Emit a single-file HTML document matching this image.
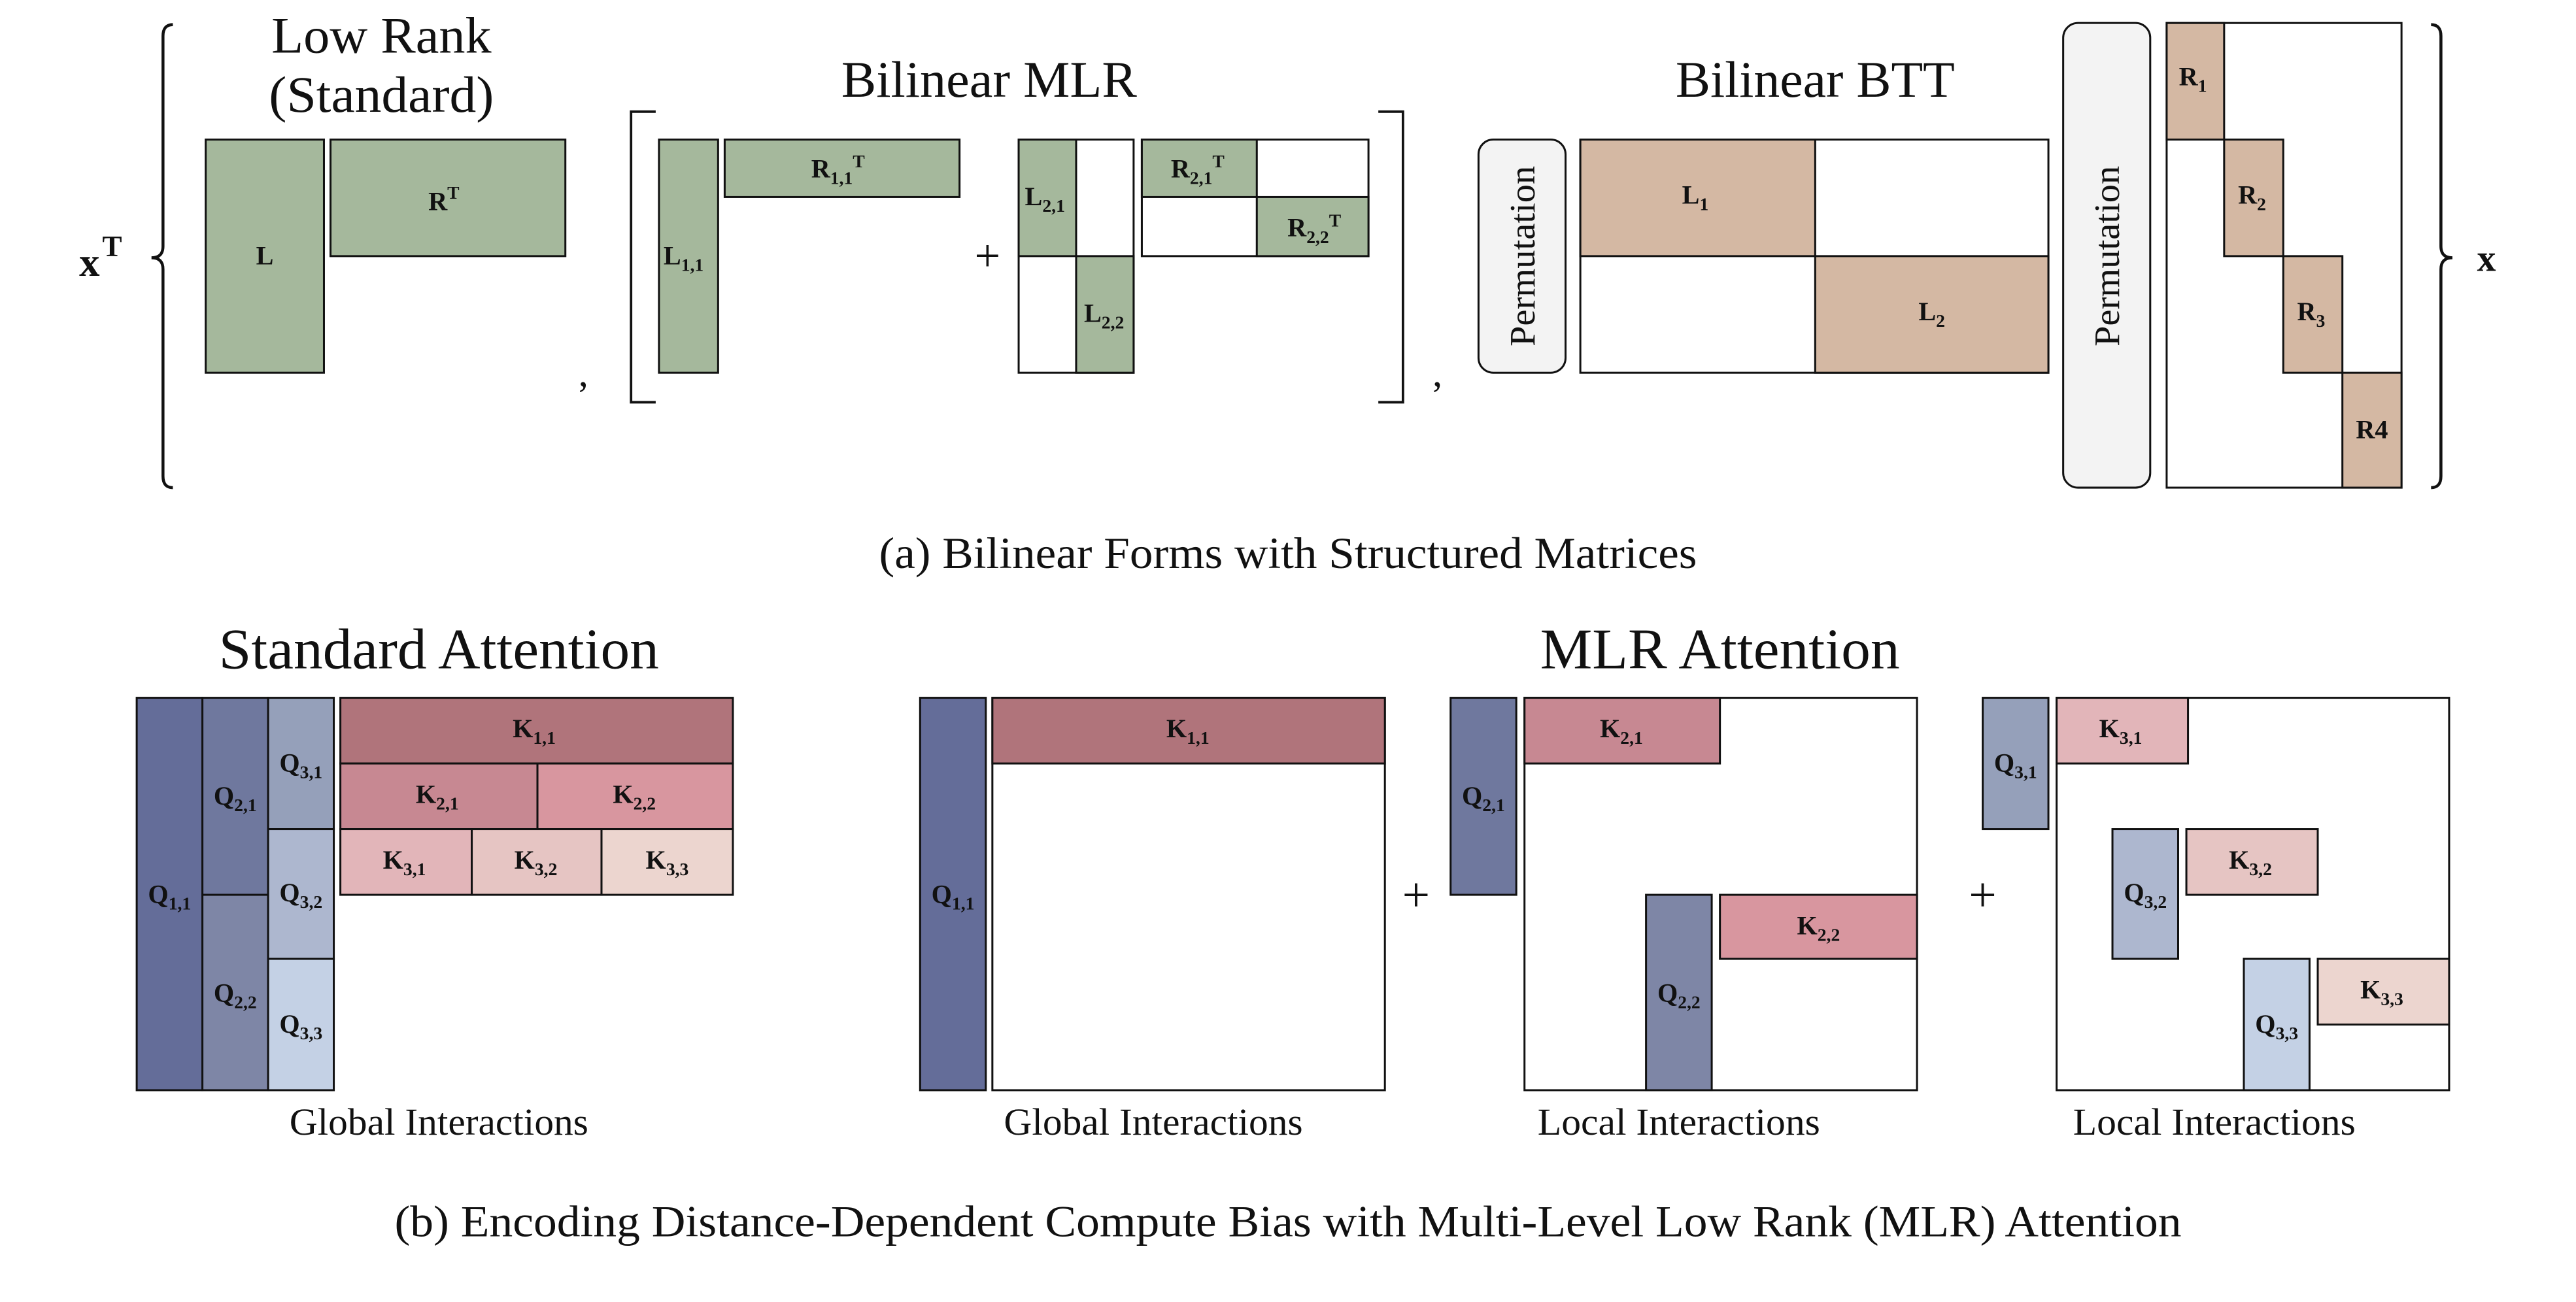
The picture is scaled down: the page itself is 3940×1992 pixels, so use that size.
<!DOCTYPE html>
<html><head><meta charset="utf-8"><style>
html,body{margin:0;padding:0;background:#fff;}
svg{display:block;}
text{font-family:"Liberation Serif",serif;fill:#111;}
.t{font-size:31px;}
.cap{font-size:27px;}
.lb{font-size:16px;font-weight:bold;text-anchor:middle;}
.sub{font-size:11px;}
.st{font-size:23px;text-anchor:middle;}
rect{stroke:#111;stroke-width:1.2;}
</style></head><body>
<svg width="3940" height="1992" viewBox="0 0 1568 793" xmlns="http://www.w3.org/2000/svg">
<text x="48" y="168" style="font-size:25px;font-weight:bold">x</text>
<text x="62" y="156" style="font-size:18px;font-weight:bold">T</text>
<path d="M105,15 Q99,15 99,22 L99,150 Q99,157 92,157 Q99,157 99,164 L99,290 Q99,297 105,297" fill="none" stroke="#111" stroke-width="1.8"/>
<path d="M1480,15 Q1486,15 1486,22 L1486,150 Q1486,157 1493,157 Q1486,157 1486,164 L1486,290 Q1486,297 1480,297" fill="none" stroke="#111" stroke-width="1.8"/>
<text x="1508" y="165" style="font-size:23px;font-weight:bold">x</text>

<text class="t" x="232" y="32" text-anchor="middle" textLength="134" lengthAdjust="spacingAndGlyphs">Low Rank</text>
<text class="t" x="232" y="68" text-anchor="middle" textLength="137" lengthAdjust="spacingAndGlyphs">(Standard)</text>
<rect x="125" y="85" width="72" height="142" fill="#a5b89c"/>
<rect x="201" y="85" width="143" height="71" fill="#a5b89c"/>
<text class="lb" x="161" y="161">L</text>
<text class="lb" x="270" y="128">R<tspan class="sub" dy="-7">T</tspan></text>
<text x="352" y="235" style="font-size:24px">,</text>

<text class="t" x="602" y="59" text-anchor="middle" textLength="180" lengthAdjust="spacingAndGlyphs">Bilinear MLR</text>
<path d="M399,68 L384,68 L384,245 L399,245" fill="none" stroke="#111" stroke-width="1.5"/>
<path d="M839,68 L854,68 L854,245 L839,245" fill="none" stroke="#111" stroke-width="1.5"/>
<rect x="401" y="85" width="36" height="142" fill="#a5b89c"/>
<text class="lb" x="416" y="161">L<tspan class="sub" dy="4">1,1</tspan></text>
<rect x="441" y="85" width="143" height="35" fill="#a5b89c"/>
<text class="lb" x="510" y="108">R<tspan class="sub" dy="4">1,1</tspan><tspan class="sub" dy="-10">T</tspan></text>
<text x="601" y="165" style="font-size:28px" text-anchor="middle">+</text>
<rect x="620" y="85" width="70" height="142" fill="#fff"/>
<rect x="620" y="85" width="35" height="71" fill="#a5b89c"/>
<rect x="655" y="156" width="35" height="71" fill="#a5b89c"/>
<text class="lb" x="636" y="125">L<tspan class="sub" dy="4">2,1</tspan></text>
<text class="lb" x="672" y="196">L<tspan class="sub" dy="4">2,2</tspan></text>
<rect x="695" y="85" width="138" height="71" fill="#fff"/>
<rect x="695" y="85" width="70" height="35" fill="#a5b89c"/>
<rect x="765" y="120" width="68" height="36" fill="#a5b89c"/>
<text class="lb" x="729" y="108">R<tspan class="sub" dy="4">2,1</tspan><tspan class="sub" dy="-10">T</tspan></text>
<text class="lb" x="800" y="144">R<tspan class="sub" dy="4">2,2</tspan><tspan class="sub" dy="-10">T</tspan></text>
<text x="872" y="235" style="font-size:24px">,</text>

<text class="t" x="1105" y="59" text-anchor="middle" textLength="170" lengthAdjust="spacingAndGlyphs">Bilinear BTT</text>
<rect x="900" y="85" width="53" height="142" rx="9" fill="#f3f3f3" stroke="#888"/>
<text x="934" y="156" style="font-size:22px" text-anchor="middle" transform="rotate(-90 934 156)" textLength="110" lengthAdjust="spacingAndGlyphs">Permutation</text>
<rect x="962" y="85" width="285" height="142" fill="#fff"/>
<rect x="962" y="85" width="143" height="71" fill="#d4b8a3"/>
<rect x="1105" y="156" width="142" height="71" fill="#d4b8a3"/>
<text class="lb" x="1032" y="124">L<tspan class="sub" dy="4">1</tspan></text>
<text class="lb" x="1176" y="195">L<tspan class="sub" dy="4">2</tspan></text>
<rect x="1256" y="14" width="53" height="283" rx="9" fill="#f3f3f3" stroke="#888"/>
<text x="1290" y="156" style="font-size:22px" text-anchor="middle" transform="rotate(-90 1290 156)" textLength="110" lengthAdjust="spacingAndGlyphs">Permutation</text>
<rect x="1319" y="14" width="143" height="283" fill="#fff"/>
<rect x="1319" y="14" width="35" height="71" fill="#d4b8a3"/>
<rect x="1354" y="85" width="36" height="71" fill="#d4b8a3"/>
<rect x="1390" y="156" width="36" height="71" fill="#d4b8a3"/>
<rect x="1426" y="227" width="36" height="70" fill="#d4b8a3"/>
<text class="lb" x="1335" y="52">R<tspan class="sub" dy="4">1</tspan></text>
<text class="lb" x="1371" y="124">R<tspan class="sub" dy="4">2</tspan></text>
<text class="lb" x="1407" y="195">R<tspan class="sub" dy="4">3</tspan></text>
<text class="lb" x="1444" y="267">R4</text>

<text class="cap" x="784" y="346" text-anchor="middle" textLength="498" lengthAdjust="spacingAndGlyphs">(a) Bilinear Forms with Structured Matrices</text>

<text x="267" y="407" style="font-size:35px" text-anchor="middle" textLength="268" lengthAdjust="spacingAndGlyphs">Standard Attention</text>
<rect x="83" y="425" width="40" height="239" fill="#646d99"/>
<rect x="123" y="425" width="40" height="120" fill="#6f789e"/>
<rect x="123" y="545" width="40" height="119" fill="#7e86a6"/>
<rect x="163" y="425" width="40" height="80" fill="#95a0ba"/>
<rect x="163" y="505" width="40" height="79" fill="#adb7cf"/>
<rect x="163" y="584" width="40" height="80" fill="#c4d1e5"/>
<text class="lb" x="103" y="550">Q<tspan class="sub" dy="4">1,1</tspan></text>
<text class="lb" x="143" y="490">Q<tspan class="sub" dy="4">2,1</tspan></text>
<text class="lb" x="143" y="610">Q<tspan class="sub" dy="4">2,2</tspan></text>
<text class="lb" x="183" y="470">Q<tspan class="sub" dy="4">3,1</tspan></text>
<text class="lb" x="183" y="549">Q<tspan class="sub" dy="4">3,2</tspan></text>
<text class="lb" x="183" y="629">Q<tspan class="sub" dy="4">3,3</tspan></text>
<rect x="207" y="425" width="239" height="40" fill="#b0747b"/>
<rect x="207" y="465" width="120" height="40" fill="#c78892"/>
<rect x="327" y="465" width="119" height="40" fill="#d8969f"/>
<rect x="207" y="505" width="80" height="40" fill="#e2b5b9"/>
<rect x="287" y="505" width="79" height="40" fill="#e6c5c3"/>
<rect x="366" y="505" width="80" height="40" fill="#ecd5cf"/>
<text class="lb" x="325" y="449">K<tspan class="sub" dy="4">1,1</tspan></text>
<text class="lb" x="266" y="489">K<tspan class="sub" dy="4">2,1</tspan></text>
<text class="lb" x="386" y="489">K<tspan class="sub" dy="4">2,2</tspan></text>
<text class="lb" x="246" y="529">K<tspan class="sub" dy="4">3,1</tspan></text>
<text class="lb" x="326" y="529">K<tspan class="sub" dy="4">3,2</tspan></text>
<text class="lb" x="406" y="529">K<tspan class="sub" dy="4">3,3</tspan></text>
<text class="st" x="267" y="691" textLength="182" lengthAdjust="spacingAndGlyphs">Global Interactions</text>

<text x="1047" y="407" style="font-size:35px" text-anchor="middle" textLength="219" lengthAdjust="spacingAndGlyphs">MLR Attention</text>
<rect x="560" y="425" width="40" height="239" fill="#646d99"/>
<text class="lb" x="580" y="550">Q<tspan class="sub" dy="4">1,1</tspan></text>
<rect x="604" y="425" width="239" height="239" fill="#fff"/>
<rect x="604" y="425" width="239" height="40" fill="#b0747b"/>
<text class="lb" x="723" y="449">K<tspan class="sub" dy="4">1,1</tspan></text>
<text class="st" x="702" y="691" textLength="182" lengthAdjust="spacingAndGlyphs">Global Interactions</text>
<text x="862" y="555" style="font-size:30px" text-anchor="middle">+</text>

<rect x="883" y="425" width="40" height="120" fill="#6f789e"/>
<text class="lb" x="903" y="490">Q<tspan class="sub" dy="4">2,1</tspan></text>
<rect x="928" y="425" width="239" height="239" fill="#fff"/>
<rect x="928" y="425" width="119" height="40" fill="#c78892"/>
<text class="lb" x="987" y="449">K<tspan class="sub" dy="4">2,1</tspan></text>
<rect x="1002" y="545" width="40" height="119" fill="#7e86a6"/>
<text class="lb" x="1022" y="610">Q<tspan class="sub" dy="4">2,2</tspan></text>
<rect x="1047" y="545" width="120" height="39" fill="#d8969f"/>
<text class="lb" x="1107" y="569">K<tspan class="sub" dy="4">2,2</tspan></text>
<text class="st" x="1022" y="691" textLength="172" lengthAdjust="spacingAndGlyphs">Local Interactions</text>
<text x="1207" y="555" style="font-size:30px" text-anchor="middle">+</text>

<rect x="1207" y="425" width="40" height="80" fill="#95a0ba"/>
<text class="lb" x="1227" y="470">Q<tspan class="sub" dy="4">3,1</tspan></text>
<rect x="1252" y="425" width="239" height="239" fill="#fff"/>
<rect x="1252" y="425" width="80" height="40" fill="#e2b5b9"/>
<text class="lb" x="1291" y="449">K<tspan class="sub" dy="4">3,1</tspan></text>
<rect x="1286" y="505" width="40" height="79" fill="#adb7cf"/>
<text class="lb" x="1306" y="549">Q<tspan class="sub" dy="4">3,2</tspan></text>
<rect x="1331" y="505" width="80" height="40" fill="#e6c5c3"/>
<text class="lb" x="1370" y="529">K<tspan class="sub" dy="4">3,2</tspan></text>
<rect x="1366" y="584" width="40" height="80" fill="#c4d1e5"/>
<text class="lb" x="1386" y="629">Q<tspan class="sub" dy="4">3,3</tspan></text>
<rect x="1411" y="584" width="80" height="40" fill="#ecd5cf"/>
<text class="lb" x="1450" y="608">K<tspan class="sub" dy="4">3,3</tspan></text>
<text class="st" x="1348" y="691" textLength="172" lengthAdjust="spacingAndGlyphs">Local Interactions</text>

<text class="cap" x="784" y="753" text-anchor="middle" textLength="1088" lengthAdjust="spacingAndGlyphs">(b) Encoding Distance-Dependent Compute Bias with Multi-Level Low Rank (MLR) Attention</text>
</svg>
</body></html>
